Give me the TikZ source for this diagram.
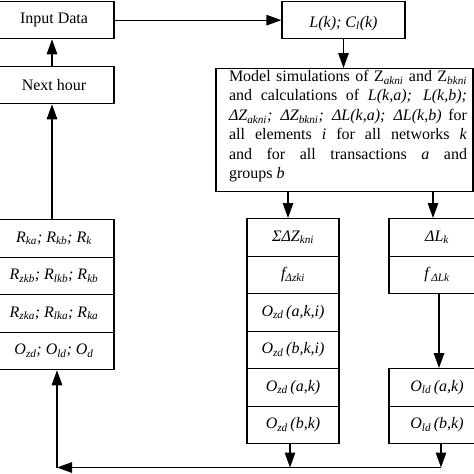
\documentclass[tikz,border=0pt]{standalone}
\usepackage{fontspec}
\setmainfont{Liberation Serif}
\usetikzlibrary{arrows.meta,calc}
\newcommand\sbs[1]{\textsubscript{\textit{#1}}}
\begin{document}
\begin{tikzpicture}[x=1pt,y=-1pt,
  every node/.style={font=\fontsize{16}{19.5}\selectfont},
  cell/.style={draw, line width=1.3pt, inner sep=0pt, minimum height=37.5pt, anchor=north},
  lcell/.style={cell, minimum width=120pt},
  zcell/.style={cell, minimum width=92pt},
  rcell/.style={cell, minimum width=96pt},
  arr/.style={line width=1.3pt, -{Triangle[length=15pt,width=10.5pt]}}]
\useasboundingbox (0,0) rectangle (474,474);
% left column
\node[lcell, minimum height=37pt] (inp) at (54,1) {Input Data};
\node[lcell, minimum height=37pt] (nxt) at (54,66) {Next hour};
\node[lcell] (l1) at (54,219) {\textit{R\sbs{ka}; R\sbs{kb}; R\sbs{k}}};
\node[lcell] (l2) at (54,256.5) {\textit{R\sbs{zkb}; R\sbs{lkb}; R\sbs{kb}}};
\node[lcell] (l3) at (54,294) {\textit{R\sbs{zka}; R\sbs{lka}; R\sbs{ka}}};
\node[lcell] (l4) at (54,331.5) {\textit{O\sbs{zd}; O\sbs{ld}; O\sbs{d}}};
% top right
\node[cell, minimum width=123pt, minimum height=37pt, text height=15pt, text depth=1pt] (lk) at (343.5,1) {\textit{L(k); C\sbs{l}(k)}};
\node[draw, line width=1.3pt, anchor=north, inner xsep=0pt, inner ysep=1.5pt, minimum width=257pt] (model) at (344.5,68)
  {\hspace*{7pt}\parbox[t][120pt][t]{238pt}{Model simulations of Z\sbs{akni} and Z\sbs{bkni}\linebreak
  and calculations of \textit{L(k,a); L(k,b);}\linebreak
  \textit{ΔZ\sbs{akni}; ΔZ\sbs{bkni}; ΔL(k,a); ΔL(k,b)} for\linebreak
  all elements \textit{i} for all networks \textit{k}\linebreak
  and for all transactions \textit{a} and\linebreak
  groups \textit{b}}};
% Z column
\node[zcell] (z1) at (293,218) {\textit{ΣΔZ\sbs{kni}}};
\node[zcell] (z2) at (293,255.5) {\textit{f\sbs{Δzki}}};
\node[zcell] (z3) at (293,293) {\textit{O\sbs{zd}\,(a,k,i)}};
\node[zcell] (z4) at (293,330.5) {\textit{O\sbs{zd}\,(b,k,i)}};
\node[zcell] (z5) at (293,368) {\textit{O\sbs{zd}\,(a,k)}};
\node[zcell] (z6) at (293,405.5) {\textit{O\sbs{zd}\,(b,k)}};
% right column
\node[rcell] (r1) at (437,218) {\textit{ΔL\sbs{k}}};
\node[rcell] (r2) at (437,255.5) {\textit{f\,\sbs{ΔLk}}};
\node[rcell] (r3) at (437,368) {\textit{O\sbs{ld}\,(a,k)}};
\node[rcell] (r4) at (437,405.5) {\textit{O\sbs{ld}\,(b,k)}};
% connectors
\draw[arr] (inp.east) -- (lk.west);
\draw[arr] (lk.south) -- (lk.south |- model.north);
\draw[arr] ([xshift=-5pt]z1.north |- model.south) -- ([xshift=-5pt]z1.north);
\draw[arr] ([xshift=-4pt]r1.north |- model.south) -- ([xshift=-4pt]r1.north);
\draw[arr] ([xshift=2pt]r2.south) -- ([xshift=2pt]r3.north);
\coordinate (jn) at (57,467.5);
\draw[arr] ([xshift=-3pt]z6.south) -- ([xshift=-3pt]z6.south |- jn);
\draw[arr] ([xshift=4pt]r4.south) -- ([xshift=4pt]r4.south |- jn);
\draw[arr] ([xshift=4pt]r4.south |- jn) -- (jn);
\draw[arr] (jn) -- (jn |- l4.south);
\draw[arr] ([xshift=-2pt]l1.north) -- ([xshift=-2pt]nxt.south);
\draw[arr] ([xshift=-2pt]nxt.north) -- ([xshift=-2pt]inp.south);
\end{tikzpicture}
\end{document}
